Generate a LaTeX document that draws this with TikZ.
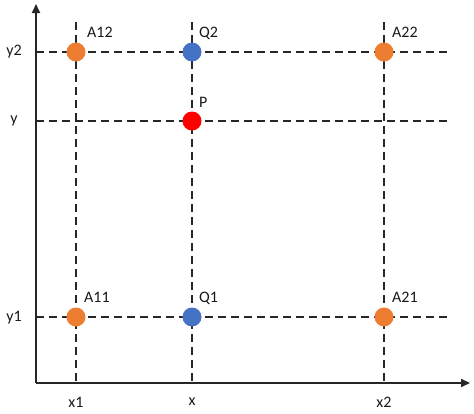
\documentclass[tikz,border=0pt]{standalone}
\usepackage{fontspec}
\setmainfont{Carlito}
\usetikzlibrary{arrows.meta}
\definecolor{orng}{HTML}{ED7D31}
\definecolor{blu}{HTML}{4472C4}
\definecolor{rd}{HTML}{FF0000}
\tikzset{
  axis/.style={line width=1.8pt, draw=black!85, -{Triangle[length=9pt,width=8pt]}},
  grid/.style={line width=1.3pt, draw=black!85, dash pattern=on 8pt off 5pt},
  pt/.style={circle, minimum size=19pt, inner sep=0pt, fill=#1},
  lab/.style={font=\fontsize{16}{18}\selectfont, text=black!90, inner sep=0pt},
}
\begin{document}
\begin{tikzpicture}[x=1pt,y=-1pt]
\useasboundingbox (0,0) rectangle (474,413);
% axes
\coordinate (O) at (36,383);
\coordinate (Ytip) at (36,4);
\coordinate (Xtip) at (470,383);
% grid lines
\coordinate (vx1t) at (76,22); \coordinate (vx1b) at (76,383);
\coordinate (vxt) at (192,22); \coordinate (vxb) at (192,383);
\coordinate (vx2t) at (384,22); \coordinate (vx2b) at (384,383);
\coordinate (hy2l) at (36,52); \coordinate (hy2r) at (448,52);
\coordinate (hyl) at (36,121); \coordinate (hyr) at (448,121);
\coordinate (hy1l) at (36,317); \coordinate (hy1r) at (448,317);
\draw[grid] (vx1t) -- (vx1b);
\draw[grid] (vxt) -- (vxb);
\draw[grid] (vx2t) -- (vx2b);
\draw[grid] (hy2l) -- (hy2r);
\draw[grid] (hyl) -- (hyr);
\draw[grid] (hy1l) -- (hy1r);
\draw[axis] (O) -- (Ytip);
\draw[axis] (O) -- (Xtip);
% points
\node[pt=orng] (A12) at (76,52) {};
\node[pt=blu] (Q2) at (192,52) {};
\node[pt=orng] (A22) at (384,52) {};
\node[pt=rd] (P) at (192,121) {};
\node[pt=orng] (A11) at (76,317) {};
\node[pt=blu] (Q1) at (192,317) {};
\node[pt=orng] (A21) at (384,317) {};
% point labels
\node[lab, anchor=base west] (lA12) at (87,37) {A12};
\node[lab, anchor=base west] (lQ2) at (199,37) {Q2};
\node[lab, anchor=base west] (lA22) at (392,37) {A22};
\node[lab, anchor=base west] (lP) at (199,107) {P};
\node[lab, anchor=base west] (lA11) at (84,302) {A11};
\node[lab, anchor=base west] (lQ1) at (199,302) {Q1};
\node[lab, anchor=base west] (lA21) at (392,302) {A21};
% axis labels
\node[lab] (ly2) at (14,52) {y2};
\node[lab] (ly) at (14,121) {y};
\node[lab] (ly1) at (14,318) {y1};
\node[lab] (lx1) at (76,402) {x1};
\node[lab] (lx) at (192,402) {x};
\node[lab] (lx2) at (384,402) {x2};
\end{tikzpicture}
\end{document}
